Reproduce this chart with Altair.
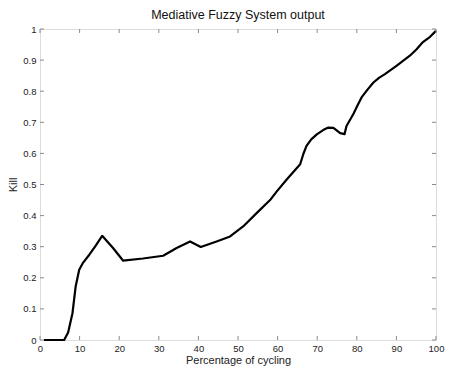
import altair as alt
import pandas as pd

# Curve
pct = [1, 6.1, 7.1, 8.2, 9.0, 9.9, 10.9, 12.5, 13.9, 15.7, 18.5, 21.0, 26, 31.1, 34.5, 37.9, 40.6,
       44.6, 48, 51.3, 54.7, 58.1, 59.8, 62.3, 65.7, 66.5, 67.3, 68.5, 69.9, 71.5, 72.8, 74.1,
       75.8, 76.9, 77.4, 79.1, 80.2, 81.2, 82.7, 84.2, 85.6, 87.1, 90.1, 93.4, 95.1, 96.7, 98.5, 100]
kill = [0, 0, 0.024, 0.086, 0.172, 0.226, 0.249, 0.275, 0.30, 0.335, 0.295, 0.255, 0.262, 0.271,
        0.296, 0.317, 0.299, 0.317, 0.333, 0.365, 0.408, 0.45, 0.478, 0.516, 0.565, 0.598, 0.624,
        0.645, 0.661, 0.675, 0.683, 0.682, 0.665, 0.662, 0.688, 0.726, 0.755, 0.78, 0.805, 0.828,
        0.843, 0.855, 0.882, 0.914, 0.935, 0.958, 0.975, 0.994]

x_ticks = [0, 10, 20, 30, 40, 50, 60, 70, 80, 90, 100]
y_ticks = [0, 0.1, 0.2, 0.3, 0.4, 0.5, 0.6, 0.7, 0.8, 0.9, 1]

df = pd.DataFrame({"x": pct, "y": kill})
xt = pd.DataFrame({"t": x_ticks})
yt = pd.DataFrame({"t": y_ticks})

W, H = 396, 311
FONT = "Liberation Sans"
GREY = "#8a8a8a"

xs = alt.Scale(domain=[0, 100], nice=False, zero=False)
ys = alt.Scale(domain=[0, 1], nice=False, zero=False)

x_axis = alt.Axis(values=x_ticks, title="Percentage of cycling", tickSize=0, labelPadding=3,
                  domain=False, grid=False, labelOverlap=False, labelFlush=False,
                  labelFontSize=9.5, titleFontSize=11, titlePadding=2,
                  labelColor="#222", titleColor="#222", titleFontWeight="normal",
                  labelFont=FONT, titleFont=FONT)
y_axis = alt.Axis(values=y_ticks, title="Kill", tickSize=0, labelPadding=4,
                  domain=False, grid=False, labelOverlap=False, labelFlush=False,
                  labelFontSize=9.5, titleFontSize=11, titlePadding=4,
                  labelColor="#222", titleColor="#222", titleFontWeight="normal",
                  labelFont=FONT, titleFont=FONT, labelExpr="format(datum.value, '.1~f')")

line = alt.Chart(df).mark_line(color="black", strokeWidth=2.2, strokeJoin="round").encode(
    x=alt.X("x:Q", scale=xs, axis=x_axis),
    y=alt.Y("y:Q", scale=ys, axis=y_axis),
)

tick_len = 4
top_t = alt.Chart(xt).mark_rule(color=GREY, strokeWidth=1).encode(
    x=alt.X("t:Q", scale=xs, axis=x_axis), y=alt.value(0), y2=alt.value(tick_len))
bot_t = alt.Chart(xt).mark_rule(color=GREY, strokeWidth=1).encode(
    x=alt.X("t:Q", scale=xs, axis=x_axis), y=alt.value(H), y2=alt.value(H - tick_len))
left_t = alt.Chart(yt).mark_rule(color=GREY, strokeWidth=1).encode(
    y=alt.Y("t:Q", scale=ys, axis=y_axis), x=alt.value(0), x2=alt.value(tick_len))
right_t = alt.Chart(yt).mark_rule(color=GREY, strokeWidth=1).encode(
    y=alt.Y("t:Q", scale=ys, axis=y_axis), x=alt.value(W), x2=alt.value(W - tick_len))

chart = alt.layer(line, top_t, bot_t, left_t, right_t).properties(
    width=W, height=H,
    title=alt.TitleParams("Mediative Fuzzy System output", fontSize=12.5, font=FONT,
                          fontWeight="normal", color="#111", offset=3),
    autosize=alt.AutoSizeParams(type="none"),
    padding={"left": 40, "top": 29, "right": 38, "bottom": 41},
).configure_view(stroke=GREY, strokeWidth=1).configure(background="white")

chart.save("out.html", embed_options={"renderer": "svg", "actions": False})
